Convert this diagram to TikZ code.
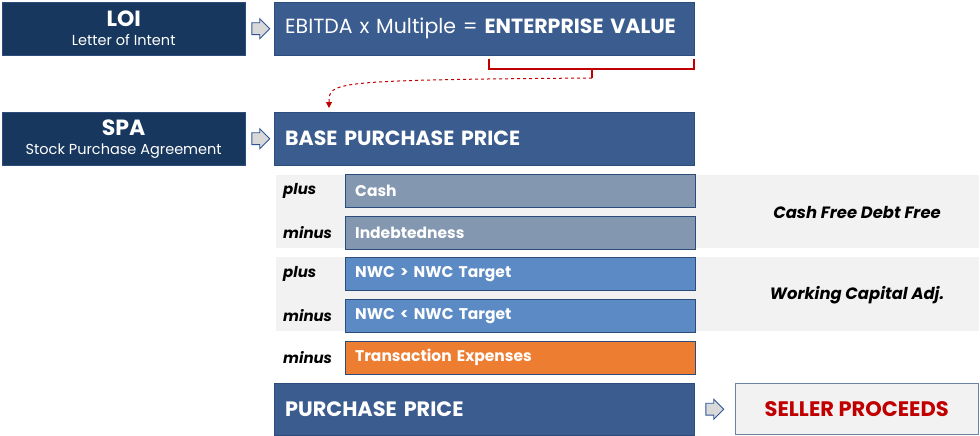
\documentclass[tikz,border=0pt]{standalone}
\usepackage{fontspec}
\setmainfont{Poppins}
\usetikzlibrary{positioning,shapes.arrows,arrows.meta}

\definecolor{navy}{HTML}{17375E}
\definecolor{steel}{HTML}{3B5C8F}
\definecolor{steelline}{HTML}{2C4C7C}
\definecolor{slate}{HTML}{8497B0}
\definecolor{sky}{HTML}{5B8AC4}
\definecolor{amber}{HTML}{ED7D31}
\definecolor{band}{HTML}{F2F2F2}
\definecolor{brick}{HTML}{C00000}
\definecolor{arrfill}{HTML}{D9D9D9}
\definecolor{arrline}{HTML}{2F5597}

\tikzset{
  stage/.style={draw=steelline, fill=navy, text=white, minimum width=243pt, minimum height=53pt,
    inner sep=0pt, align=center, anchor=north west, font=\fontsize{14.5}{19}\selectfont},
  calcbox/.style={draw=steelline, fill=steel, text=white, minimum width=420pt, minimum height=53pt,
    inner xsep=11pt, text width=398pt, align=left, anchor=north west},
  rowbox/.style={draw=steelline, fill=#1, text=white, minimum width=350pt, minimum height=33pt,
    inner xsep=10pt, text width=330pt, align=left, anchor=north west,
    font=\fontsize{15.5}{18}\selectfont\bfseries},
  sign/.style={anchor=west, inner sep=0pt, font=\fontsize{15}{18}\selectfont\bfseries\itshape},
  note/.style={font=\fontsize{16.4}{19}\selectfont\bfseries\itshape},
  blockarr/.style={single arrow, draw=arrline, fill=arrfill, line width=0.9pt, minimum height=17pt,
    inner sep=5.5pt, single arrow head extend=4pt},
}

\begin{document}
\begin{tikzpicture}[x=1pt,y=-1pt]
  \useasboundingbox (0,0) rectangle (980,436);

  % grey bands behind the adjustments
  \fill[band] (276,175) rectangle (979,248);
  \fill[band] (276,257) rectangle (979,331);

  \node[stage] (loi) at (2,2) {{\fontsize{22}{24}\selectfont\bfseries LOI}\\Letter of Intent};
  \node[stage] (spa) at (2,112) {{\fontsize{22}{24}\selectfont\bfseries SPA}\\Stock Purchase Agreement};

  \node[calcbox, font=\fontsize{20.5}{24}\selectfont] (ev) at (274,2)
    {EBITDA x Multiple = \textbf{ENTERPRISE VALUE}};
  \node[calcbox, font=\fontsize{20.5}{24}\selectfont\bfseries] (bpp) at (274,112) {BASE PURCHASE PRICE};

  \node[rowbox=slate] (cash) at (345,174) {Cash};
  \node[rowbox=slate] (debt) at (345,216) {Indebtedness};
  \node[rowbox=sky] (nwcp) at (345,257) {NWC > NWC Target};
  \node[rowbox=sky] (nwcm) at (345,299) {NWC < NWC Target};
  \node[rowbox=amber] (tx) at (345,341) {Transaction Expenses};

  \node[sign] (s1) at (283,190.5) {plus};
  \node[sign] (s2) at (283,232.5) {minus};
  \node[sign] (s3) at (283,273.5) {plus};
  \node[sign] (s4) at (283,315.5) {minus};
  \node[sign] (s5) at (283,357.5) {minus};

  \node[note] (cfdf) at (857,212) {Cash Free Debt Free};
  \node[note] (wca) at (857,295) {Working Capital Adj.};

  \node[calcbox, minimum height=52pt, font=\fontsize{20.8}{24}\selectfont\bfseries] (pp) at (274,383) {PURCHASE PRICE};
  \node[draw=steelline!70, fill=band, text=brick, minimum width=243pt, minimum height=51pt,
    anchor=north west, font=\fontsize{21}{24}\selectfont\bfseries] (seller) at (735,383) {SELLER PROCEEDS};

  \node[blockarr, right=6pt of loi] (a1) {};
  \node[blockarr, right=6pt of spa] (a2) {};
  \node[blockarr, right=11pt of pp] (a3) {};

  % bracket under enterprise value
  \coordinate (bl) at (489,59);
  \coordinate (br) at (694,59);
  \coordinate (bm) at (592,69);
  \coordinate (bt) at (592,78);
  \coordinate (hit) at (329,108);
  \draw[brick, line width=1.5pt] (bl) -- (bl |- bm) -- (br |- bm) -- (br);
  \draw[brick, line width=1.5pt] (bm) -- (bt);
  \draw[brick, dashed, line width=1pt, -{Triangle[length=6pt,width=6pt]}]
    (bt) .. controls (330,80) and (329,82) .. (hit);
\end{tikzpicture}
\end{document}
